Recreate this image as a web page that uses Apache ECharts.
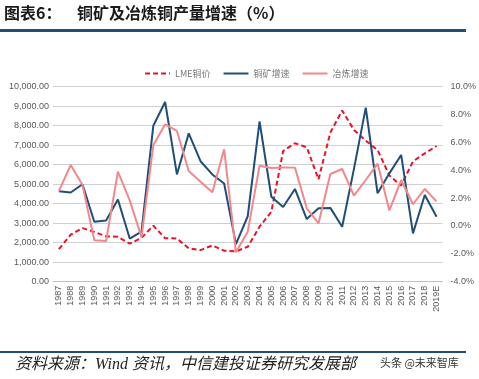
<!DOCTYPE html>
<html>
<head>
<meta charset="utf-8">
<script src="https://cdn.jsdelivr.net/npm/echarts@6/dist/echarts.min.js"></script>
<style>
html,body{margin:0;padding:0;background:#fff;}
#c{width:479px;height:379px;}
</style>
</head>
<body>
<div id="c"></div>
<script>
var years = ['1987','1988','1989','1990','1991','1992','1993','1994','1995','1996','1997','1998','1999','2000','2001','2002','2003','2004','2005','2006','2007','2008','2009','2010','2011','2012','2013','2014','2015','2016','2017','2018','2019E'];
var lmePrice = [1670,2410,2750,2550,2330,2300,1950,2250,2870,2230,2220,1710,1620,1860,1590,1560,1790,2820,3590,6700,7100,6890,5250,7650,8780,7780,7230,6750,5450,4930,6170,6580,6960];
var mineGrowth = [2.5,2.4,3.0,0.3,0.4,1.9,-0.9,-0.4,7.2,8.9,3.7,6.65,4.65,3.7,3.05,-1.3,0.7,7.5,2.1,1.36,2.66,0.5,1.27,1.3,-0.05,4.1,8.5,2.35,3.78,5.1,-0.53,2.22,0.67];
var smeltGrowth = [2.5,4.38,2.94,-1.03,-1.08,3.9,1.84,-0.8,5.8,7.3,6.82,3.95,3.18,2.42,5.5,-1.89,-0.41,4.33,4.17,4.2,4.19,1.27,0.19,3.73,4.09,2.18,3.3,4.48,1.12,3.3,1.56,2.66,1.77];
var leftTicks = {min:0, max:10000, interval:1000};
var rightTicks = {min:-4, max:10, interval:2};

var chart = echarts.init(document.getElementById('c'));
var gray = '#595959';
chart.setOption({
  animation:false,
  backgroundColor:'#fff',
  graphic:[
    {type:'text', left:4, top:5, style:{text:'图表6：', font:'bold 16px "Noto Sans CJK SC"', fill:'#1a1a1a'}},
    {type:'text', left:77, top:5, style:{text:'铜矿及冶炼铜产量增速（%）', font:'bold 16px "Noto Sans CJK SC"', fill:'#1a1a1a'}},
    {type:'rect', shape:{x:0, y:29, width:466, height:3}, style:{fill:'#1f4e79'}},
    {type:'rect', shape:{x:0, y:351, width:466, height:2}, style:{fill:'#1f4e79'}},
    {type:'text', left:15, top:357, style:{text:'资料来源：Wind 资讯，中信建投证券研究发展部', font:'italic 16px "Liberation Serif","Noto Sans CJK SC"', fill:'#222'}},
    {type:'text', left:380, top:357, style:{text:'头条 @未来智库', font:'11px "Noto Sans CJK SC"', fill:'#333'}}
  ],
  legend:{
    left:139, top:64, itemWidth:25, itemHeight:8, itemGap:12,
    itemStyle:{opacity:0},
    textStyle:{fontSize:9, color:'#777', fontFamily:'"Noto Sans CJK SC"'},
    data:['LME铜价','铜矿增速','冶炼增速']
  },
  grid:{left:53, right:35, top:86.7, bottom:97.3},
  xAxis:{
    type:'category', data:years, boundaryGap:true,
    axisLine:{lineStyle:{color:'#bfbfbf'}},
    axisTick:{show:false},
    axisLabel:{rotate:90, interval:0, fontSize:9, color:gray, margin:4, fontFamily:'"Liberation Sans"'}
  },
  yAxis:[
    {type:'value', min:leftTicks.min, max:leftTicks.max, interval:leftTicks.interval,
     axisLine:{show:false}, axisTick:{show:false},
     splitLine:{lineStyle:{color:'#d0d0d0'}},
     axisLabel:{fontSize:9, color:gray, margin:4, fontFamily:'"Liberation Sans"',
       formatter:function(v){return v.toLocaleString('en-US',{minimumFractionDigits:2,maximumFractionDigits:2});}}},
    {type:'value', min:rightTicks.min, max:rightTicks.max, interval:rightTicks.interval,
     axisLine:{show:false}, axisTick:{show:false}, splitLine:{show:false},
     axisLabel:{fontSize:9, color:gray, margin:8, fontFamily:'"Liberation Sans"',
       formatter:function(v){return v.toFixed(1)+'%';}}}
  ],
  series:[
    {name:'LME铜价', type:'line', yAxisIndex:0, data:lmePrice, symbol:'none',
     lineStyle:{color:'#e8132b', width:2, type:[5,3]}, itemStyle:{color:'#e8132b'}},
    {name:'铜矿增速', type:'line', yAxisIndex:1, data:mineGrowth, symbol:'none',
     lineStyle:{color:'#1f4e79', width:2}, itemStyle:{color:'#1f4e79'}},
    {name:'冶炼增速', type:'line', yAxisIndex:1, data:smeltGrowth, symbol:'none',
     lineStyle:{color:'#f4878c', width:2}, itemStyle:{color:'#f4878c'}}
  ]
});
</script>
</body>
</html>
